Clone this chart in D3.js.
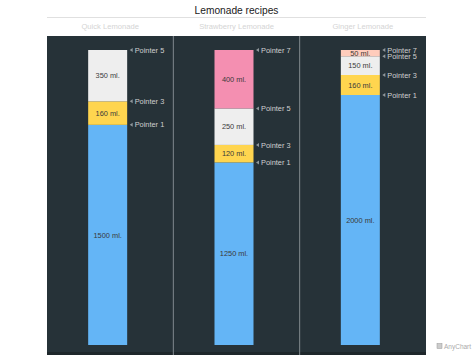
<!DOCTYPE html>
<html><head><meta charset="utf-8">
<script src="https://cdn.jsdelivr.net/npm/d3@7"></script>
<style>body{margin:0;background:#fff}svg{display:block}</style>
</head><body>
<svg id="c" width="474" height="355"></svg>
<script>
const title = "Lemonade recipes";
const recipes = ["Quick Lemonade", "Strawberry Lemonade", "Ginger Lemonade"];
const ingredients = ["base", "lemon", "sugar", "extra"];
const colors = ["#64b5f6", "#ffd54f", "#eeeeee", "#f48fb1"];
const quickValues = [1500, 160, 350];
const strawberryValues = [1250, 120, 250, 400];
const gingerValues = [2000, 160, 150, 50];
const gingerColors = ["#64b5f6", "#ffd54f", "#eeeeee", "#ffccbc"];
const pointerLabels = ["Pointer 1", "Pointer 3", "Pointer 5", "Pointer 7"];
const series = [
  {values: quickValues, colors: colors},
  {values: strawberryValues, colors: colors},
  {values: gingerValues, colors: gingerColors}
];

(function(){
const svg = d3.select("#c");
const W = 474, H = 355;
const pLeft = 47, pRight = 426, pTop = 36, pBottom = 352;
const barTop = 50, barBottom = 345;
const FONT = "Arial, 'Liberation Sans', sans-serif";

svg.append("text").attr("x", (pLeft+pRight)/2).attr("y", 13.5).attr("text-anchor","middle")
  .attr("font-family", FONT).attr("font-size", 10.2).attr("fill","#212121").text(title);
svg.append("line").attr("x1", pLeft).attr("x2", pRight).attr("y1", 17.5).attr("y2", 17.5)
  .attr("stroke","#e0e0e0").attr("stroke-width",1);

const xBand = d3.scaleBand().domain(recipes).range([pLeft, pRight]);
svg.append("rect").attr("x", pLeft).attr("y", pTop).attr("width", pRight-pLeft).attr("height", H-pTop).attr("fill","#263238");
svg.append("rect").attr("x", pLeft).attr("y", pBottom).attr("width", pRight-pLeft).attr("height", H-pBottom).attr("fill","#1e272b");

recipes.forEach((r, i) => {
  const x0 = xBand(r), bw = xBand.bandwidth();
  if (i > 0) svg.append("line").attr("x1", x0).attr("x2", x0).attr("y1", pTop).attr("y2", H)
    .attr("stroke","#80898e").attr("stroke-width",1);
  svg.append("text").attr("x", x0 + bw/2).attr("y", 29).attr("text-anchor","middle")
    .attr("font-family", FONT).attr("font-size", 7.6).attr("fill","#d4d4d4").text(r);

  const vals = series[i].values;
  const total = d3.sum(vals);
  const y = d3.scaleLinear().domain([0, total]).range([barBottom, barTop]);
  const barW = 39;
  const bx = x0 + bw/2 - 2.5 - barW/2;
  let cum = 0;
  const g = svg.append("g");
  vals.forEach((v, j) => {
    const y0 = y(cum), y1 = y(cum + v);
    cum += v;
    g.append("rect").attr("x", bx).attr("y", y1).attr("width", barW).attr("height", y0 - y1)
      .attr("fill", series[i].colors[j]);
    g.append("text").attr("x", bx + barW/2).attr("y", (y0+y1)/2 + 2.6).attr("text-anchor","middle")
      .attr("font-family", FONT).attr("font-size", 7.4).attr("fill","#3a3a3a")
      .text(v + " ml.");
    const py = y1;
    const mx = bx + barW + 2.5;
    g.append("path").attr("d", `M${mx},${py} L${mx+3},${py-2} L${mx+3},${py+2} Z`).attr("fill","#8f979b");
    g.append("text").attr("x", mx + 5).attr("y", py + 2.6).attr("font-family", FONT)
      .attr("font-size", 7.4).attr("fill","#d0d0d0").text(pointerLabels[j]);
  });
});

const cg = svg.append("g").attr("transform","translate(437,348)");
cg.append("rect").attr("x",0).attr("y",-4.5).attr("width",5).attr("height",5).attr("fill","#ccc").attr("stroke","#999").attr("stroke-width",0.5);
cg.append("text").attr("x",7).attr("y",0.5).attr("font-family", FONT).attr("font-size",6.5).attr("fill","#aaa").text("AnyChart");
})();
</script>
</body></html>
